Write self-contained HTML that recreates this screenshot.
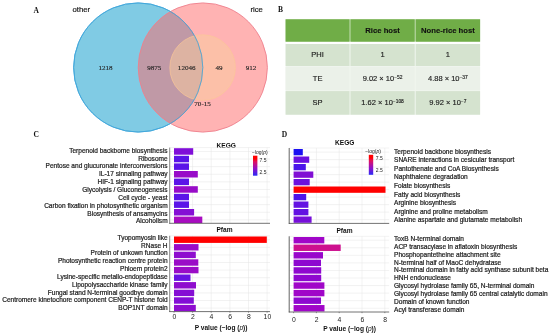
<!DOCTYPE html>
<html><head><meta charset="utf-8"><title>Figure</title>
<style>
html,body{margin:0;padding:0;background:#fff;}
body{width:550px;height:333px;overflow:hidden;position:relative;}
svg{position:absolute;left:0;top:0;display:block;}
text{font-family:"Liberation Sans", sans-serif;fill:#1a1a1a;}
.serif{font-family:"Liberation Serif", serif;}
.pl{font-family:"Liberation Serif", serif;font-weight:bold;font-size:7.5px;fill:#111;}
.num{font-family:"Liberation Serif", serif;font-size:7.1px;fill:#222;text-anchor:middle;stroke:#222;stroke-width:0.12px;}
.lab{font-size:6.57px;stroke:#1a1a1a;stroke-width:0.2px;}
.labr{font-size:6.54px;text-anchor:end;stroke:#1a1a1a;stroke-width:0.2px;}
.ttl{font-size:6.6px;font-weight:bold;text-anchor:middle;fill:#111;}
.tick{font-size:6.8px;text-anchor:middle;fill:#222;}
.leg{font-size:5px;fill:#222;}
.th{font-size:7.7px;font-weight:bold;text-anchor:middle;fill:#111;stroke:#111;stroke-width:0.12px;}
.td{font-size:7.5px;text-anchor:middle;fill:#1c1c1c;stroke:#1c1c1c;stroke-width:0.15px;}
.sup{font-size:4.9px;}
</style></head><body>
<svg width="550" height="333" viewBox="0 0 550 333">
<rect width="550" height="333" fill="#ffffff"/>

<g id="venn">
<circle cx="138.2" cy="67.5" r="64.6" fill="#80cbe4" stroke="#3fa6da" stroke-width="0.8"/>
<circle cx="202.8" cy="67.5" r="64.6" fill="#ff6767" fill-opacity="0.5" stroke="#ee7f8c" stroke-width="0.9"/>
<circle cx="202.6" cy="67.6" r="32.8" fill="#f9cd9d" fill-opacity="0.5" stroke="#fbc797" stroke-opacity="0.85" stroke-width="0.8"/>
<circle cx="138.2" cy="67.5" r="64.6" fill="none" stroke="#3fa6da" stroke-width="0.8"/>
<text class="pl" x="33.4" y="12.6">A</text>
<text x="72.6" y="12.4" font-size="7.7" stroke="#1a1a1a" stroke-width="0.2">other</text>
<text x="250.4" y="12.4" font-size="7.7" stroke="#1a1a1a" stroke-width="0.2">rice</text>
<text class="num" x="105.5" y="70.2">1218</text>
<text class="num" x="154.3" y="70.2">9875</text>
<text class="num" x="186.7" y="70.2">12046</text>
<text class="num" x="219" y="70.2">49</text>
<text class="num" x="251" y="70.2">912</text>
<text class="num" x="202.6" y="105.6">70-15</text>
</g>
<g id="table">
<text class="pl" x="278.0" y="12.1">B</text>
<rect x="285.6" y="19.3" width="194.5" height="95.4" fill="#f1f6ef"/><rect x="285.6" y="19.3" width="194.5" height="22.4" fill="#c4deb4"/><rect x="285.6" y="41.7" width="194.5" height="2.3" fill="#ffffff"/>
<rect x="285.6" y="19.3" width="63.9" height="22.4" fill="#70ad47"/>
<rect x="350.5" y="19.3" width="64.2" height="22.4" fill="#70ad47"/>
<rect x="415.7" y="19.3" width="64.4" height="22.4" fill="#70ad47"/>
<rect x="285.6" y="44.0" width="63.9" height="22.0" fill="#d5e3cf"/>
<rect x="350.5" y="44.0" width="64.2" height="22.0" fill="#d5e3cf"/>
<rect x="415.7" y="44.0" width="64.4" height="22.0" fill="#d5e3cf"/>
<rect x="285.6" y="66.8" width="63.9" height="23.5" fill="#ebf1e9"/>
<rect x="350.5" y="66.8" width="64.2" height="23.5" fill="#ebf1e9"/>
<rect x="415.7" y="66.8" width="64.4" height="23.5" fill="#ebf1e9"/>
<rect x="285.6" y="91.1" width="63.9" height="23.6" fill="#d5e3cf"/>
<rect x="350.5" y="91.1" width="64.2" height="23.6" fill="#d5e3cf"/>
<rect x="415.7" y="91.1" width="64.4" height="23.6" fill="#d5e3cf"/>
<text class="th" x="382.6" y="32.5">Rice host</text>
<text class="th" x="447.9" y="32.5">None-rice host</text>
<text class="td" x="317.6" y="56.6">PHI</text>
<text class="td" x="382.6" y="56.6">1</text>
<text class="td" x="447.9" y="56.6">1</text>
<text class="td" x="317.6" y="80.8">TE</text>
<text class="td" x="382.6" y="80.8">9.02 × 10<tspan class="sup" dy="-2.0">−52</tspan></text>
<text class="td" x="447.9" y="80.8">4.88 × 10<tspan class="sup" dy="-2.0">−37</tspan></text>
<text class="td" x="317.6" y="104.9">SP</text>
<text class="td" x="382.6" y="104.9">1.62 × 10<tspan class="sup" dy="-2.0">−108</tspan></text>
<text class="td" x="447.9" y="104.9">9.92 × 10<tspan class="sup" dy="-2.0">−7</tspan></text>
</g>
<g id="panelC">
<text class="pl" x="33.6" y="137.1">C</text>
<text class="ttl" x="226.2" y="148">KEGG</text>
<line x1="192.6" y1="147.6" x2="192.6" y2="223.3" stroke="#e4e4e4" stroke-width="0.5"/>
<line x1="211.2" y1="147.6" x2="211.2" y2="223.3" stroke="#e4e4e4" stroke-width="0.5"/>
<line x1="229.9" y1="147.6" x2="229.9" y2="223.3" stroke="#e4e4e4" stroke-width="0.5"/>
<line x1="248.5" y1="147.6" x2="248.5" y2="223.3" stroke="#e4e4e4" stroke-width="0.5"/>
<line x1="267.1" y1="147.6" x2="267.1" y2="223.3" stroke="#e4e4e4" stroke-width="0.5"/>
<line x1="169.7" y1="147.60" x2="270.0" y2="147.60" stroke="#e4e4e4" stroke-width="0.5"/>
<line x1="169.7" y1="151.45" x2="270.0" y2="151.45" stroke="#e4e4e4" stroke-width="0.5"/>
<line x1="169.7" y1="159.05" x2="270.0" y2="159.05" stroke="#e4e4e4" stroke-width="0.5"/>
<line x1="169.7" y1="166.65" x2="270.0" y2="166.65" stroke="#e4e4e4" stroke-width="0.5"/>
<line x1="169.7" y1="174.25" x2="270.0" y2="174.25" stroke="#e4e4e4" stroke-width="0.5"/>
<line x1="169.7" y1="181.85" x2="270.0" y2="181.85" stroke="#e4e4e4" stroke-width="0.5"/>
<line x1="169.7" y1="189.45" x2="270.0" y2="189.45" stroke="#e4e4e4" stroke-width="0.5"/>
<line x1="169.7" y1="197.05" x2="270.0" y2="197.05" stroke="#e4e4e4" stroke-width="0.5"/>
<line x1="169.7" y1="204.65" x2="270.0" y2="204.65" stroke="#e4e4e4" stroke-width="0.5"/>
<line x1="169.7" y1="212.25" x2="270.0" y2="212.25" stroke="#e4e4e4" stroke-width="0.5"/>
<line x1="169.7" y1="219.85" x2="270.0" y2="219.85" stroke="#e4e4e4" stroke-width="0.5"/>
<rect x="174.0" y="148.20" width="19.2" height="6.50" fill="#800ed8"/>
<rect x="174.0" y="155.80" width="15.0" height="6.50" fill="#5b14e8"/>
<rect x="174.0" y="163.40" width="15.0" height="6.50" fill="#5b14e8"/>
<rect x="174.0" y="171.00" width="23.8" height="6.50" fill="#980cc8"/>
<rect x="174.0" y="178.60" width="15.0" height="6.50" fill="#5b14e8"/>
<rect x="174.0" y="186.20" width="23.8" height="6.50" fill="#980cc8"/>
<rect x="174.0" y="193.80" width="15.0" height="6.50" fill="#5b14e8"/>
<rect x="174.0" y="201.40" width="15.0" height="6.50" fill="#5b14e8"/>
<rect x="174.0" y="209.00" width="20.1" height="6.50" fill="#850ed5"/>
<rect x="174.0" y="216.60" width="28.3" height="6.50" fill="#a80cc0"/>
<line x1="169.7" y1="147.6" x2="169.7" y2="223.7" stroke="#555" stroke-width="0.7"/>
<line x1="169.3" y1="223.3" x2="270.0" y2="223.3" stroke="#444" stroke-width="0.75"/>
<defs><linearGradient id="lg253" x1="0" y1="1" x2="0" y2="0"><stop offset="0" stop-color="#2a2af5"/><stop offset="0.35" stop-color="#9010c8"/><stop offset="0.7" stop-color="#e01060"/><stop offset="0.85" stop-color="#ff0000"/><stop offset="1" stop-color="#ff0000"/></linearGradient></defs>
<text class="leg" x="252.0" y="153.5" font-size="4.8">−log(<tspan font-style="italic">p</tspan>)</text>
<rect x="253.0" y="155.7" width="4.4" height="20" fill="url(#lg253)"/>
<text class="leg" x="259.6" y="161.5">7.5</text>
<text class="leg" x="259.6" y="173.5">2.5</text>
<text class="labr" x="167.6" y="152.70">Terpenoid backbome biosynthesis</text>
<text class="labr" x="167.6" y="160.56">Ribosome</text>
<text class="labr" x="167.6" y="168.42">Pentose and glucuronate interconversions</text>
<text class="labr" x="167.6" y="176.28">IL-17 sinnaling pathway</text>
<text class="labr" x="167.6" y="184.14">HIF-1 signaling pathway</text>
<text class="labr" x="167.6" y="192.00">Glycolysis / Gluconeogenesis</text>
<text class="labr" x="167.6" y="199.86">Cell cycle - yeast</text>
<text class="labr" x="167.6" y="207.72">Carbon fixation in photosynthetic organism</text>
<text class="labr" x="167.6" y="215.58">Biosynthesis of ansamycins</text>
<text class="labr" x="167.6" y="223.44">Alcoholism</text>
<text class="ttl" x="224.5" y="232.2">Pfam</text>
<line x1="192.6" y1="235.8" x2="192.6" y2="311.6" stroke="#e4e4e4" stroke-width="0.5"/>
<line x1="211.2" y1="235.8" x2="211.2" y2="311.6" stroke="#e4e4e4" stroke-width="0.5"/>
<line x1="229.9" y1="235.8" x2="229.9" y2="311.6" stroke="#e4e4e4" stroke-width="0.5"/>
<line x1="248.5" y1="235.8" x2="248.5" y2="311.6" stroke="#e4e4e4" stroke-width="0.5"/>
<line x1="267.1" y1="235.8" x2="267.1" y2="311.6" stroke="#e4e4e4" stroke-width="0.5"/>
<line x1="169.7" y1="235.80" x2="270.0" y2="235.80" stroke="#e4e4e4" stroke-width="0.5"/>
<line x1="169.7" y1="239.70" x2="270.0" y2="239.70" stroke="#e4e4e4" stroke-width="0.5"/>
<line x1="169.7" y1="247.30" x2="270.0" y2="247.30" stroke="#e4e4e4" stroke-width="0.5"/>
<line x1="169.7" y1="254.90" x2="270.0" y2="254.90" stroke="#e4e4e4" stroke-width="0.5"/>
<line x1="169.7" y1="262.50" x2="270.0" y2="262.50" stroke="#e4e4e4" stroke-width="0.5"/>
<line x1="169.7" y1="270.10" x2="270.0" y2="270.10" stroke="#e4e4e4" stroke-width="0.5"/>
<line x1="169.7" y1="277.70" x2="270.0" y2="277.70" stroke="#e4e4e4" stroke-width="0.5"/>
<line x1="169.7" y1="285.30" x2="270.0" y2="285.30" stroke="#e4e4e4" stroke-width="0.5"/>
<line x1="169.7" y1="292.90" x2="270.0" y2="292.90" stroke="#e4e4e4" stroke-width="0.5"/>
<line x1="169.7" y1="300.50" x2="270.0" y2="300.50" stroke="#e4e4e4" stroke-width="0.5"/>
<line x1="169.7" y1="308.10" x2="270.0" y2="308.10" stroke="#e4e4e4" stroke-width="0.5"/>
<rect x="174.0" y="236.50" width="92.8" height="6.40" fill="#ff0000"/>
<rect x="174.0" y="244.10" width="24.5" height="6.40" fill="#9a0cc7"/>
<rect x="174.0" y="251.70" width="21.8" height="6.40" fill="#8e0dcf"/>
<rect x="174.0" y="259.30" width="24.3" height="6.40" fill="#9a0cc7"/>
<rect x="174.0" y="266.90" width="24.5" height="6.40" fill="#9a0cc7"/>
<rect x="174.0" y="274.50" width="16.5" height="6.40" fill="#6812e2"/>
<rect x="174.0" y="282.10" width="22.0" height="6.40" fill="#8f0dce"/>
<rect x="174.0" y="289.70" width="20.2" height="6.40" fill="#850ed4"/>
<rect x="174.0" y="297.30" width="19.8" height="6.40" fill="#830ed6"/>
<rect x="174.0" y="304.90" width="21.8" height="6.40" fill="#8e0dcf"/>
<line x1="169.7" y1="235.8" x2="169.7" y2="312.0" stroke="#555" stroke-width="0.7"/>
<line x1="169.3" y1="311.6" x2="270.0" y2="311.6" stroke="#444" stroke-width="0.75"/>
<line x1="174.0" y1="311.6" x2="174.0" y2="312.8" stroke="#444" stroke-width="0.5"/>
<text class="tick" x="174.3" y="319.2">0</text>
<line x1="192.6" y1="311.6" x2="192.6" y2="312.8" stroke="#444" stroke-width="0.5"/>
<text class="tick" x="192.9" y="319.2">2</text>
<line x1="211.2" y1="311.6" x2="211.2" y2="312.8" stroke="#444" stroke-width="0.5"/>
<text class="tick" x="211.5" y="319.2">4</text>
<line x1="229.9" y1="311.6" x2="229.9" y2="312.8" stroke="#444" stroke-width="0.5"/>
<text class="tick" x="230.2" y="319.2">6</text>
<line x1="248.5" y1="311.6" x2="248.5" y2="312.8" stroke="#444" stroke-width="0.5"/>
<text class="tick" x="248.8" y="319.2">8</text>
<line x1="267.1" y1="311.6" x2="267.1" y2="312.8" stroke="#444" stroke-width="0.5"/>
<text class="tick" x="267.4" y="319.2">10</text>
<text class="labr" x="167.6" y="239.70">Tyopomyosin like</text>
<text class="labr" x="167.6" y="247.54">RNase H</text>
<text class="labr" x="167.6" y="255.38">Protein of unkown function</text>
<text class="labr" x="167.6" y="263.22">Photosynthetic reaction centre protein</text>
<text class="labr" x="167.6" y="271.06">Phloem protein2</text>
<text class="labr" x="167.6" y="278.90">Lysine-specific metallo-endopeptidase</text>
<text class="labr" x="167.6" y="286.74">Lipopolysaccharide kinase family</text>
<text class="labr" x="167.6" y="294.58">Fungal stand N-terminal goodbye domain</text>
<text class="labr" x="167.6" y="302.42">Centromere kinetochore component CENP-T histone fold</text>
<text class="labr" x="167.6" y="310.26">BOP1NT domain</text>
<text class="ttl" x="221.1" y="329.5">P value (−log (<tspan font-style="italic" font-weight="normal">p</tspan>))</text>
</g>
<g id="panelD">
<text class="pl" x="281.8" y="137">D</text>
<text class="ttl" x="344.8" y="145">KEGG</text>
<line x1="316.4" y1="148.0" x2="316.4" y2="223.4" stroke="#e4e4e4" stroke-width="0.5"/>
<line x1="339.2" y1="148.0" x2="339.2" y2="223.4" stroke="#e4e4e4" stroke-width="0.5"/>
<line x1="362.0" y1="148.0" x2="362.0" y2="223.4" stroke="#e4e4e4" stroke-width="0.5"/>
<line x1="384.8" y1="148.0" x2="384.8" y2="223.4" stroke="#e4e4e4" stroke-width="0.5"/>
<line x1="289.2" y1="148.00" x2="389.2" y2="148.00" stroke="#e4e4e4" stroke-width="0.5"/>
<line x1="289.2" y1="152.15" x2="389.2" y2="152.15" stroke="#e4e4e4" stroke-width="0.5"/>
<line x1="289.2" y1="159.65" x2="389.2" y2="159.65" stroke="#e4e4e4" stroke-width="0.5"/>
<line x1="289.2" y1="167.15" x2="389.2" y2="167.15" stroke="#e4e4e4" stroke-width="0.5"/>
<line x1="289.2" y1="174.65" x2="389.2" y2="174.65" stroke="#e4e4e4" stroke-width="0.5"/>
<line x1="289.2" y1="182.15" x2="389.2" y2="182.15" stroke="#e4e4e4" stroke-width="0.5"/>
<line x1="289.2" y1="189.65" x2="389.2" y2="189.65" stroke="#e4e4e4" stroke-width="0.5"/>
<line x1="289.2" y1="197.15" x2="389.2" y2="197.15" stroke="#e4e4e4" stroke-width="0.5"/>
<line x1="289.2" y1="204.65" x2="389.2" y2="204.65" stroke="#e4e4e4" stroke-width="0.5"/>
<line x1="289.2" y1="212.15" x2="389.2" y2="212.15" stroke="#e4e4e4" stroke-width="0.5"/>
<line x1="289.2" y1="219.65" x2="389.2" y2="219.65" stroke="#e4e4e4" stroke-width="0.5"/>
<rect x="293.6" y="149.00" width="9.2" height="6.30" fill="#1b10f2"/>
<rect x="293.6" y="156.50" width="15.6" height="6.30" fill="#6b10e0"/>
<rect x="293.6" y="164.00" width="12.2" height="6.30" fill="#4a14ea"/>
<rect x="293.6" y="171.50" width="19.7" height="6.30" fill="#800ed4"/>
<rect x="293.6" y="179.00" width="16.1" height="6.30" fill="#6d10de"/>
<rect x="293.6" y="186.50" width="91.9" height="6.30" fill="#ff0000"/>
<rect x="293.6" y="194.00" width="12.6" height="6.30" fill="#4e14e9"/>
<rect x="293.6" y="201.50" width="14.8" height="6.30" fill="#6311e2"/>
<rect x="293.6" y="209.00" width="14.8" height="6.30" fill="#6311e2"/>
<rect x="293.6" y="216.50" width="18.0" height="6.30" fill="#770fd9"/>
<line x1="289.2" y1="148.0" x2="289.2" y2="223.8" stroke="#555" stroke-width="0.9"/>
<line x1="288.8" y1="223.4" x2="389.2" y2="223.4" stroke="#444" stroke-width="0.75"/>
<defs><linearGradient id="lg368" x1="0" y1="1" x2="0" y2="0"><stop offset="0" stop-color="#2a2af5"/><stop offset="0.35" stop-color="#9010c8"/><stop offset="0.7" stop-color="#e01060"/><stop offset="0.85" stop-color="#ff0000"/><stop offset="1" stop-color="#ff0000"/></linearGradient></defs>
<text class="leg" x="365.2" y="152.6" font-size="4.8">−log(<tspan font-style="italic">p</tspan>)</text>
<rect x="368.8" y="154.8" width="4.4" height="20" fill="url(#lg368)"/>
<text class="leg" x="375.8" y="159.7">7.5</text>
<text class="leg" x="375.8" y="172.3">2.5</text>
<text class="lab" x="394" y="153.60">Terpenoid backbone biosynthesis</text>
<text class="lab" x="394" y="162.20">SNARE interactions in cesicular transport</text>
<text class="lab" x="394" y="170.80">Pantothenate and CoA Biosynthesis</text>
<text class="lab" x="394" y="179.40">Naphthalene degradation</text>
<text class="lab" x="394" y="188.00">Folate biosynthesis</text>
<text class="lab" x="394" y="196.60">Fatty acid biosynthesis</text>
<text class="lab" x="394" y="205.20">Arginine biosynthesis</text>
<text class="lab" x="394" y="213.80">Arginine and proline metabolism</text>
<text class="lab" x="394" y="222.40">Alanine aspartate and glutamate metabolish</text>
<text class="ttl" x="344.5" y="232.9">Pfam</text>
<line x1="316.4" y1="236.3" x2="316.4" y2="312.0" stroke="#e4e4e4" stroke-width="0.5"/>
<line x1="339.2" y1="236.3" x2="339.2" y2="312.0" stroke="#e4e4e4" stroke-width="0.5"/>
<line x1="362.0" y1="236.3" x2="362.0" y2="312.0" stroke="#e4e4e4" stroke-width="0.5"/>
<line x1="384.8" y1="236.3" x2="384.8" y2="312.0" stroke="#e4e4e4" stroke-width="0.5"/>
<line x1="289.2" y1="236.30" x2="389.2" y2="236.30" stroke="#e4e4e4" stroke-width="0.5"/>
<line x1="289.2" y1="240.20" x2="389.2" y2="240.20" stroke="#e4e4e4" stroke-width="0.5"/>
<line x1="289.2" y1="247.76" x2="389.2" y2="247.76" stroke="#e4e4e4" stroke-width="0.5"/>
<line x1="289.2" y1="255.32" x2="389.2" y2="255.32" stroke="#e4e4e4" stroke-width="0.5"/>
<line x1="289.2" y1="262.88" x2="389.2" y2="262.88" stroke="#e4e4e4" stroke-width="0.5"/>
<line x1="289.2" y1="270.44" x2="389.2" y2="270.44" stroke="#e4e4e4" stroke-width="0.5"/>
<line x1="289.2" y1="278.00" x2="389.2" y2="278.00" stroke="#e4e4e4" stroke-width="0.5"/>
<line x1="289.2" y1="285.56" x2="389.2" y2="285.56" stroke="#e4e4e4" stroke-width="0.5"/>
<line x1="289.2" y1="293.12" x2="389.2" y2="293.12" stroke="#e4e4e4" stroke-width="0.5"/>
<line x1="289.2" y1="300.68" x2="389.2" y2="300.68" stroke="#e4e4e4" stroke-width="0.5"/>
<line x1="289.2" y1="308.24" x2="389.2" y2="308.24" stroke="#e4e4e4" stroke-width="0.5"/>
<rect x="293.6" y="237.00" width="30.7" height="6.40" fill="#a006c8"/>
<rect x="293.6" y="244.56" width="47.1" height="6.40" fill="#cd108e"/>
<rect x="293.6" y="252.12" width="29.4" height="6.40" fill="#9907cb"/>
<rect x="293.6" y="259.68" width="27.4" height="6.40" fill="#8e08d0"/>
<rect x="293.6" y="267.24" width="27.6" height="6.40" fill="#8f08cf"/>
<rect x="293.6" y="274.80" width="27.6" height="6.40" fill="#8f08cf"/>
<rect x="293.6" y="282.36" width="30.8" height="6.40" fill="#a006c8"/>
<rect x="293.6" y="289.92" width="30.8" height="6.40" fill="#a006c8"/>
<rect x="293.6" y="297.48" width="27.4" height="6.40" fill="#8e08d0"/>
<rect x="293.6" y="305.04" width="30.9" height="6.40" fill="#a006c8"/>
<line x1="289.2" y1="236.3" x2="289.2" y2="312.4" stroke="#555" stroke-width="0.9"/>
<line x1="288.8" y1="312.0" x2="389.2" y2="312.0" stroke="#444" stroke-width="0.75"/>
<line x1="293.6" y1="312.0" x2="293.6" y2="313.2" stroke="#444" stroke-width="0.5"/>
<text class="tick" x="293.9" y="321.8">0</text>
<line x1="316.4" y1="312.0" x2="316.4" y2="313.2" stroke="#444" stroke-width="0.5"/>
<text class="tick" x="316.7" y="321.8">2</text>
<line x1="339.2" y1="312.0" x2="339.2" y2="313.2" stroke="#444" stroke-width="0.5"/>
<text class="tick" x="339.5" y="321.8">4</text>
<line x1="362.0" y1="312.0" x2="362.0" y2="313.2" stroke="#444" stroke-width="0.5"/>
<text class="tick" x="362.3" y="321.8">6</text>
<line x1="384.8" y1="312.0" x2="384.8" y2="313.2" stroke="#444" stroke-width="0.5"/>
<text class="tick" x="385.1" y="321.8">8</text>
<text class="lab" x="394" y="241.00">ToxB N-terminal domain</text>
<text class="lab" x="394" y="248.87">ACP transacylase in aflatoxin biosynthesis</text>
<text class="lab" x="394" y="256.74">Phosphopantetheine attachment site</text>
<text class="lab" x="394" y="264.61">N-terminal half of MaoC dehydratase</text>
<text class="lab" x="394" y="272.48">N-terminal domain in fatty acid synthase subunit beta</text>
<text class="lab" x="394" y="280.35">HNH endonuclease</text>
<text class="lab" x="394" y="288.22">Glycosyl hydrolase family 65, N-terminal domain</text>
<text class="lab" x="394" y="296.09">Glycosyl hydrolase family 65 central catalytic domain</text>
<text class="lab" x="394" y="303.96">Domain of known function</text>
<text class="lab" x="394" y="311.83">Acyl transferase domain</text>
<text class="ttl" x="349.6" y="330.5">P value (−log (<tspan font-style="italic" font-weight="normal">p</tspan>))</text>
</g>
</svg>
</body></html>
